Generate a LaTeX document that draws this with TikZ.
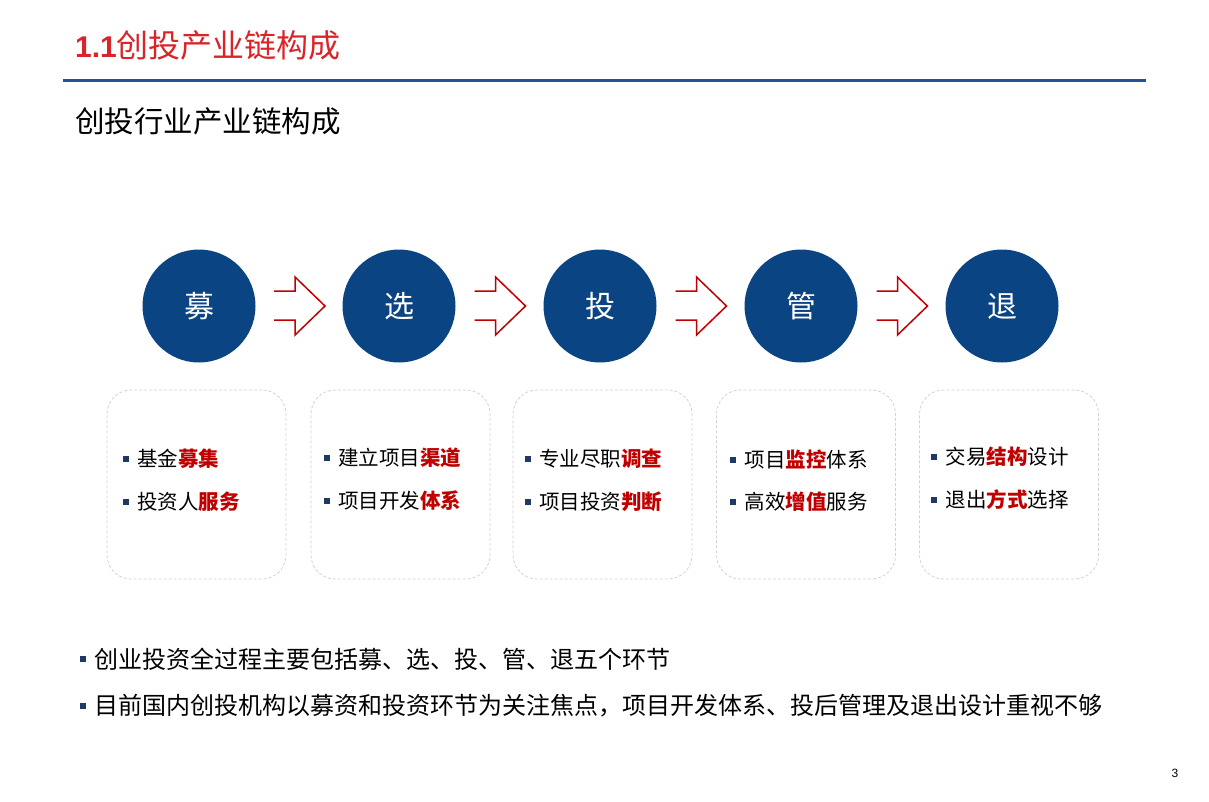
\documentclass[tikz,border=0pt]{standalone}
\usepackage{fontspec}
\setmainfont{Liberation Sans}
\newfontfamily\cjk{Noto Sans CJK SC}
\usetikzlibrary{calc,positioning}
\definecolor{cblue}{HTML}{0B4482}
\definecolor{lblue}{HTML}{1F5597}
\definecolor{bul}{HTML}{1F3864}
\definecolor{hred}{HTML}{C00000}
\definecolor{tred}{HTML}{D9252A}
\newcommand{\hl}[1]{\textcolor{hred}{\bfseries #1}}
\tikzset{
  stage/.style={circle, fill=cblue, minimum size=113pt, inner sep=0pt, text=white, font=\cjk\fontsize{30}{32}\selectfont},
  card/.style={draw=gray!35, dash pattern=on 3pt off 2pt, line width=0.8pt, rounded corners=24pt, minimum width=179pt, minimum height=189pt, inner sep=0pt},
  itemtxt/.style={anchor=west, inner sep=0pt, font=\cjk\fontsize{20.5}{22}\selectfont, text=black},
  bigtxt/.style={anchor=west, inner sep=0pt, font=\cjk\fontsize{24}{26}\selectfont, text=black},
  sq/.style={fill=bul, minimum size=6pt, inner sep=0pt},
  flow/.style={draw=hred, line width=1.5pt, line join=miter},
}
\begin{document}
\begin{tikzpicture}[x=1pt,y=-1pt]
\useasboundingbox (0,0) rectangle (1209,801);
% title
\node[anchor=base west, inner sep=0pt, text=tred] (title) at (75,57)
  {\fontsize{30}{32}\selectfont\bfseries 1.1\cjk\mdseries\fontsize{32}{33}\selectfont 创投产业链构成};
\draw[lblue, line width=3pt] (63,80) -- (1146,80);
\node[anchor=west, inner sep=0pt, font=\cjk\fontsize{29.5}{31}\selectfont] (sub) at (75,121) {创投行业产业链构成};
% circles
\foreach \i/\x/\t in {1/199/募, 2/399/选, 3/600/投, 4/801/管, 5/1002/退}{
  \node[stage] (c\i) at (\x,306) {\t};
}
% arrows
\foreach \a/\b in {1/2, 2/3, 3/4, 4/5}{
  \coordinate (m\a) at ($(c\a)!0.5!(c\b)$);
  \draw[flow] ($(m\a)+(-25,-15)$) -- ($(m\a)+(-4,-15)$) -- ($(m\a)+(-4,-29)$) -- ($(m\a)+(26,0)$)
     -- ($(m\a)+(-4,29)$) -- ($(m\a)+(-4,14)$) -- ($(m\a)+(-25,14)$);
}
% cards
\foreach \i/\x in {1/196.5, 2/400.5, 3/602.5, 4/806, 5/1009}{
  \node[card] (k\i) at (\x,484.5) {};
}
% card texts
\node[sq] (b11) at ($(k1.west)+(19,-26)$) {};
\node[itemtxt, right=8pt of b11] (t11) {基金\hl{募集}};
\node[sq] (b12) at ($(k1.west)+(19,17)$) {};
\node[itemtxt, right=8pt of b12] (t12) {投资人\hl{服务}};

\node[sq] (b21) at ($(k2.west)+(16,-27)$) {};
\node[itemtxt, right=8pt of b21] (t21) {建立项目\hl{渠道}};
\node[sq] (b22) at ($(k2.west)+(16,16)$) {};
\node[itemtxt, right=8pt of b22] (t22) {项目开发\hl{体系}};

\node[sq] (b31) at ($(k3.west)+(15,-26)$) {};
\node[itemtxt, right=8pt of b31] (t31) {专业尽职\hl{调查}};
\node[sq] (b32) at ($(k3.west)+(15,17)$) {};
\node[itemtxt, right=8pt of b32] (t32) {项目投资\hl{判断}};

\node[sq] (b41) at ($(k4.west)+(17,-25)$) {};
\node[itemtxt, right=8pt of b41] (t41) {项目\hl{监控}体系};
\node[sq] (b42) at ($(k4.west)+(17,17)$) {};
\node[itemtxt, right=8pt of b42] (t42) {高效\hl{增值}服务};

\node[sq] (b51) at ($(k5.west)+(15,-28)$) {};
\node[itemtxt, right=8pt of b51] (t51) {交易\hl{结构}设计};
\node[sq] (b52) at ($(k5.west)+(15,15)$) {};
\node[itemtxt, right=8pt of b52] (t52) {退出\hl{方式}选择};
% bottom bullets
\node[sq] (p1) at (83,659) {};
\node[bigtxt, right=8pt of p1] (q1) {创业投资全过程主要包括募、选、投、管、退五个环节};
\node[sq] (p2) at (83,706) {};
\node[bigtxt, right=8pt of p2] (q2) {目前国内创投机构以募资和投资环节为关注焦点，项目开发体系、投后管理及退出设计重视不够};
% page number
\node[inner sep=0pt, font=\fontsize{12}{14}\selectfont] (pg) at (1175,773) {3};
\end{tikzpicture}
\end{document}
